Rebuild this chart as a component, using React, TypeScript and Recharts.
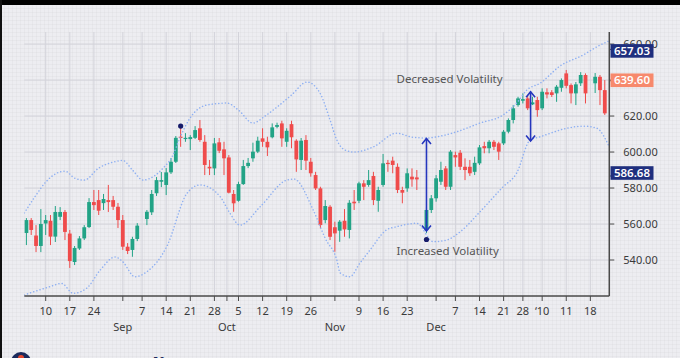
import { ComposedChart, Bar, Line, Scatter, XAxis, YAxis, CartesianGrid } from 'recharts'

const GREEN = '#22a386'
const RED = '#ef4b4b'
const NAVY = '#1f2f7e'
const BAND = '#8fb0f2'
const ARROW = '#2536bd'
const FONT = "'Noto Sans', sans-serif"

// one slot per trading day, null = holiday gap on the axis
const opens = [
  555.0, 562.2, 553.6, 547.8, 560.3, 561.8, 553.0, 564.0, 566.7, 554.7,
  538.9, 546.4, 552.0, 558.3, 572.2, 573.3, 571.6, 573.3, 573.3, 569.6,
  562.2, 547.4, 545.6, 551.7, null, 562.8, 566.5, 577.1, 583.5, 581.7,
  588.7, 594.6, 608.5, 607.2, 607.2, 607.9, 613.2, 605.7, 591.8, 590.9,
  605.4, 601.5, 597.0, 576.7, 572.9, 582.2, 592.2, 596.5, 600.2, 607.6,
  605.7, 608.2, 614.0, 615.9, 605.7, 615.5, 606.3, 595.6, 606.7, 594.6,
  587.2, 579.8, 562.2, 569.6, 558.2, 556.3, 561.8, 556.7, 572.4, 572.9,
  582.6, 581.7, 586.7, 572.9, 581.7, 594.0, 595.2, 591.8, 578.9, 579.8,
  586.3, 585.9, null, 556.7, 567.8, 574.3, 583.5, 590.9, 580.7, 598.3,
  599.6, 591.8, 591.8, 589.0, 593.7, 603.3, 602.1, 605.7, 604.8, 604.8,
  611.3, 617.8, 626.1, 628.5, 629.8, 626.5, 628.9, 624.3, 633.2, 633.2,
  632.6, 635.7, 643.7, 637.2, 632.6, 638.2, 642.8, null, 638.2, 641.8,
  634.4,
]
const highs = [
  563.3, 563.3, 559.4, 568.3, 565.0, 565.0, 570.0, 569.4, 567.8, 556.7,
  547.8, 553.3, 559.4, 574.4, 578.9, 578.9, 576.7, 581.7, 575.6, 571.7,
  565.0, 549.4, 552.9, 560.5, null, 567.8, 578.9, 586.1, 588.9, 591.1,
  596.7, 608.9, 613.3, 610.5, 609.4, 614.4, 617.8, 609.4, 595.6, 607.8,
  607.8, 605.7, 598.3, 578.9, 583.5, 595.6, 596.7, 605.2, 608.5, 613.2,
  608.5, 615.9, 616.3, 617.4, 613.2, 617.4, 607.1, 607.8, 609.4, 596.7,
  589.0, 580.7, 573.3, 570.5, 561.3, 562.2, 568.3, 573.3, 578.9, 583.5,
  584.4, 590.0, 589.0, 580.7, 598.9, 595.6, 597.4, 593.7, 580.7, 590.9,
  590.9, 590.0, null, 569.4, 576.1, 587.2, 594.6, 592.2, 601.1, 600.2,
  601.1, 596.5, 595.6, 597.4, 603.9, 605.7, 606.7, 606.7, 605.7, 612.2,
  618.7, 626.1, 630.7, 632.6, 631.7, 630.7, 630.7, 635.4, 635.4, 634.4,
  637.2, 640.9, 645.6, 638.1, 638.9, 644.4, 643.7, null, 643.9, 642.8,
  640.0,
]
const lows = [
  548.3, 553.9, 544.4, 544.4, 553.9, 548.3, 550.0, 562.2, 551.1, 535.6,
  537.2, 545.6, 551.1, 557.8, 567.8, 565.0, 567.8, 566.7, 567.8, 557.8,
  545.6, 543.3, 541.8, 550.5, null, 559.4, 565.0, 575.6, 580.5, 576.1,
  587.8, 593.9, 602.9, 605.7, 601.1, 607.2, 605.7, 587.2, 587.2, 587.2,
  599.4, 587.2, 577.0, 566.8, 572.4, 581.7, 591.1, 594.6, 599.4, 602.9,
  597.8, 607.6, 613.2, 602.9, 602.9, 602.1, 589.0, 590.0, 590.0, 586.3,
  578.9, 557.6, 560.4, 551.1, 544.6, 550.1, 552.9, 552.0, 567.8, 571.6,
  573.3, 580.7, 570.5, 566.8, 580.7, 589.0, 588.2, 577.2, 571.5, 577.9,
  580.7, 578.9, null, 555.0, 566.1, 572.4, 581.7, 578.9, 578.9, 591.8,
  590.0, 584.4, 586.7, 587.2, 592.8, 599.3, 599.3, 601.1, 595.6, 603.9,
  610.4, 615.9, 625.2, 627.0, 623.3, 626.1, 619.6, 623.3, 629.8, 630.6,
  627.9, 633.5, 635.4, 627.0, 626.1, 636.7, 627.0, null, 632.8, 626.1,
  620.6,
]
const closes = [
  562.2, 556.7, 547.8, 560.0, 562.2, 553.0, 566.7, 566.7, 555.6, 539.4,
  546.7, 552.0, 558.2, 572.2, 570.5, 567.4, 573.9, 572.2, 569.6, 562.2,
  547.4, 545.0, 551.7, 559.1, null, 566.8, 576.7, 584.4, 584.4, 588.7,
  594.6, 607.9, 607.9, 607.9, 608.3, 612.2, 606.7, 592.8, 590.9, 604.8,
  600.7, 596.5, 577.4, 571.5, 582.2, 592.2, 594.0, 600.2, 606.3, 605.7,
  602.6, 613.7, 615.0, 607.6, 611.8, 608.2, 595.9, 606.3, 595.2, 588.2,
  579.8, 559.4, 570.0, 552.9, 554.8, 561.3, 557.0, 571.8, 571.5, 582.6,
  580.7, 584.4, 573.3, 578.9, 593.7, 593.3, 592.8, 578.9, 577.4, 588.2,
  584.8, 584.8, null, 567.8, 574.3, 585.4, 590.0, 580.7, 600.2, 597.0,
  591.8, 590.0, 588.2, 594.0, 602.6, 602.1, 605.7, 602.9, 600.2, 611.3,
  617.8, 624.3, 629.8, 629.4, 624.3, 627.6, 623.3, 633.5, 632.0, 631.7,
  636.3, 640.0, 636.8, 632.6, 637.6, 642.8, 632.6, null, 641.8, 634.4,
  621.5,
]

// bollinger bands, read at points along the dotted curves
const upperSlots = [-0.44, 2, 4, 6, 8, 10, 12, 15, 18, 20, 22, 24.2, 26.3, 28.3, 30.4, 31.8, 33.9, 37.4, 41.6, 44, 47, 49.5, 52, 55, 58.2, 60.9, 63, 64.4, 66.1, 68, 72, 76.8, 80, 83, 86, 89.3, 94.1, 98.9, 101.7, 103.8, 106.6, 110.7, 115.5, 119, 120.9]
const upperValues = [566.1, 576.1, 583.3, 587.8, 589.4, 585.5, 584.4, 591.1, 594.4, 595.3, 590.0, 584.4, 586.3, 590.9, 598.3, 607.6, 618.7, 626.1, 627.2, 623.3, 616.1, 620.0, 625.0, 631.7, 638.9, 632.8, 617.8, 606.7, 601.1, 600.0, 602.9, 610.5, 608.3, 607.8, 608.9, 611.3, 616.1, 620.6, 627.2, 634.4, 638.3, 647.8, 653.9, 659.4, 661.7]
const lowerSlots = [-0.44, 4.9, 7.3, 9.7, 12.5, 15.3, 18.4, 20, 22.5, 25, 29.1, 33.3, 36, 40.2, 42.2, 44.3, 48.5, 54, 55.5, 59.5, 62, 64.4, 65.1, 67.1, 69.2, 71.3, 74.7, 76.8, 81, 84.4, 87.2, 90, 94.1, 98.9, 101.7, 104.5, 106.6, 112.1, 115.5, 118.3, 120.9]
const lowerValues = [520.6, 525.2, 527.0, 521.5, 524.3, 534.4, 541.7, 539.0, 530.7, 533.5, 547.4, 577.0, 581.7, 575.2, 566.1, 559.4, 569.6, 584.4, 585.0, 567.8, 552.0, 540.0, 532.8, 530.7, 538.3, 545.6, 556.7, 558.5, 560.4, 550.2, 551.1, 555.7, 566.8, 580.7, 588.3, 606.7, 608.5, 613.2, 614.4, 613.3, 603.0]

// x axis ticks (slot positions)
const dayTicks = [4, 9, 14, 24, 29, 34, 39, 44, 49, 54, 59, 69, 74, 79, 89, 94, 99, 103, 107, 112, 117]
const dayLabels = ['10', '17', '24', '7', '14', '21', '28', '5', '12', '19', '26', '9', '16', '23', '7', '14', '21', '28', '\u201810', '11', '18']
const monthTicks = [20, 41.6, 64, 85]
const monthLabels = ['Sep', 'Oct', 'Nov', 'Dec']

const yTicks = [540, 560, 580, 600, 620, 640, 660]
const hiddenYLabels = [640] // sits fully under the 639.60 box
const boxValues = [586.68, 639.6, 657.03]
const boxColors = [NAVY, '#f7896c', NAVY]
const boxShift = [-3, -0.5, 1.5]

// annotations
const arrowSlots = [83, 104.6]
const arrowTops = [607.5, 633.5]
const arrowBottoms = [556.1, 606.1]
const markerSlots = [32, 83]
const markerValues = [614.4, 551.4]
const noteSlots = [76.8, 76.8]
const noteValues = [638.2, 542.7]
const noteTexts = ['Decreased Volatility', 'Increased Volatility']

const candles = opens
  .map((o, i) =>
    o == null ? null : { slot: i, open: o, high: highs[i], low: lows[i], close: closes[i] }
  )
  .filter(Boolean) as { slot: number; open: number; high: number; low: number; close: number }[]

const upperBand = upperSlots.map((s, i) => ({ slot: s, v: upperValues[i] }))
const lowerBand = lowerSlots.map((s, i) => ({ slot: s, v: lowerValues[i] }))
const arrows = arrowSlots.map((s, i) => [
  { slot: s, v: arrowTops[i], end: 'top' },
  { slot: s, v: arrowBottoms[i], end: 'bottom' },
])
const markers = markerSlots.map((s, i) => ({ slot: s, v: markerValues[i] }))
const notes = noteSlots.map((s, i) => ({ slot: s, v: noteValues[i], text: noteTexts[i] }))

const Candle = (props: any) => {
  const { x, y, width, height, payload } = props
  if (!payload) return null
  const { open, close, high, low } = payload
  const top = Math.min(y, y + height)
  const h = Math.abs(height)
  const k = h / (high - low)
  const cx = x + width / 2
  const color = close >= open ? GREEN : RED
  const bTop = top + (high - Math.max(open, close)) * k
  const bBot = top + (high - Math.min(open, close)) * k
  return (
    <g>
      <line x1={cx} x2={cx} y1={top} y2={top + h} stroke={color} strokeWidth={1} />
      <rect x={cx - 1.9} y={bTop} width={3.8} height={Math.max(1.2, bBot - bTop)} fill={color} />
    </g>
  )
}

const ArrowHead = (props: any) => {
  const { cx, cy, payload, index } = props
  const d = payload.end === 'top' ? 1 : -1
  return (
    <path
      key={index}
      d={`M${cx - 4.5},${cy + 5.5 * d} L${cx},${cy} L${cx + 4.5},${cy + 5.5 * d}`}
      fill="none"
      stroke={ARROW}
      strokeWidth={1.6}
    />
  )
}

const Note = (props: any) => (
  <text x={props.cx} y={props.cy} fontSize={11.5} fill="#555" fontFamily={FONT}>
    {props.payload.text}
  </text>
)

const Marker = (props: any) => <circle cx={props.cx} cy={props.cy} r={2.6} fill="#161b6a" />

const XTick = ({ x, y, payload }: any) => {
  const d = dayTicks.indexOf(payload.value)
  const m = monthTicks.indexOf(payload.value)
  return (
    <g fontFamily={FONT} fontSize={11} fill="#3a3a3a">
      {d >= 0 && (
        <text x={x} y={y + 12} textAnchor="middle">
          {dayLabels[d]}
        </text>
      )}
      {m >= 0 && (
        <text x={x} y={y + 27.5} textAnchor="middle">
          {monthLabels[m]}
        </text>
      )}
    </g>
  )
}

const YTick = ({ x, y, payload }: any) => {
  const b = boxValues.indexOf(payload.value)
  if (b >= 0) {
    const cy = y + boxShift[b]
    return (
      <g>
        <rect x={610.5} y={cy - 6.8} width={43} height={13.6} fill={boxColors[b]} />
        <text x={632} y={cy + 4.2} textAnchor="middle" fontSize={11.5} fontWeight={600} fill="#fff" fontFamily={FONT}>
          {payload.value.toFixed(2)}
        </text>
      </g>
    )
  }
  if (hiddenYLabels.includes(payload.value)) return <g />
  return (
    <text x={x + 2} y={y + 4} fontSize={11} fill="#3a3a3a" fontFamily={FONT}>
      {payload.value.toFixed(2)}
    </text>
  )
}

const App = () => (
  <div
    style={{
      position: 'absolute',
      left: 0,
      top: 0,
      width: 680,
      height: 358,
      overflow: 'hidden',
      backgroundColor: '#ededf1',
      backgroundImage:
        'linear-gradient(rgba(0,0,0,0.022) 1px, transparent 1px), linear-gradient(90deg, rgba(0,0,0,0.022) 1px, transparent 1px)',
      backgroundSize: '4px 4px',
    }}
  >
    <div style={{ position: 'absolute', left: 0, top: 0, width: 680, height: 5, background: '#000' }} />
    <div style={{ position: 'absolute', left: 0, top: 0, width: 2, height: 358, background: '#111' }} />
    <ComposedChart width={680} height={358} data={candles} margin={{ top: 32, right: 0, bottom: 0, left: 24.3 }}>
      <CartesianGrid
        stroke="#d3d3da"
        horizontalValues={yTicks}
        verticalValues={[...dayTicks, ...monthTicks]}
      />
      <XAxis
        dataKey="slot"
        type="number"
        domain={[-0.44, 120.93]}
        allowDataOverflow
        ticks={[...dayTicks, ...monthTicks].sort((a, b) => a - b)}
        interval={0}
        height={62}
        tick={<XTick />}
        tickSize={5}
        tickMargin={2}
        axisLine={{ stroke: '#4a4a4a', strokeWidth: 1.5 }}
        tickLine={{ stroke: '#4a4a4a' }}
      />
      <YAxis
        orientation="right"
        type="number"
        domain={[520, 666.7]}
        allowDataOverflow
        ticks={[...yTicks, ...boxValues]}
        interval={0}
        width={70.7}
        tick={<YTick />}
        tickSize={5}
        tickMargin={7}
        axisLine={{ stroke: '#4a4a4a', strokeWidth: 1.5 }}
        tickLine={{ stroke: '#4a4a4a' }}
      />
      <Line
        data={upperBand}
        dataKey="v"
        type="monotone"
        stroke={BAND}
        strokeWidth={1.5}
        strokeDasharray="0.1 3.2"
        strokeLinecap="round"
        dot={false}
        isAnimationActive={false}
      />
      <Line
        data={lowerBand}
        dataKey="v"
        type="monotone"
        stroke={BAND}
        strokeWidth={1.5}
        strokeDasharray="0.1 3.2"
        strokeLinecap="round"
        dot={false}
        isAnimationActive={false}
      />
      <Bar dataKey={(d: any) => [d.low, d.high]} shape={Candle} barSize={4} isAnimationActive={false} />
      {arrows.map((a, i) => (
        <Line
          key={i}
          data={a}
          dataKey="v"
          type="linear"
          stroke={ARROW}
          strokeWidth={1.6}
          dot={ArrowHead}
          activeDot={false}
          isAnimationActive={false}
        />
      ))}
      <Scatter data={markers} dataKey="v" shape={Marker} isAnimationActive={false} />
      <Scatter data={notes} dataKey="v" shape={Note} isAnimationActive={false} />
    </ComposedChart>
    <div style={{ position: 'absolute', left: 11, top: 352, width: 20, height: 20, borderRadius: 10, background: '#1b2a5c' }} />
    <div style={{ position: 'absolute', left: 18, top: 355, width: 6, height: 6, borderRadius: 3, background: '#e8492f' }} />
    <div
      style={{
        position: 'absolute',
        left: 35,
        top: 350.8,
        fontFamily: FONT,
        fontSize: 22,
        fontWeight: 700,
        color: '#1b2a5c',
        lineHeight: '26px',
      }}
    >
      Investopedia
    </div>
  </div>
)

export default App
